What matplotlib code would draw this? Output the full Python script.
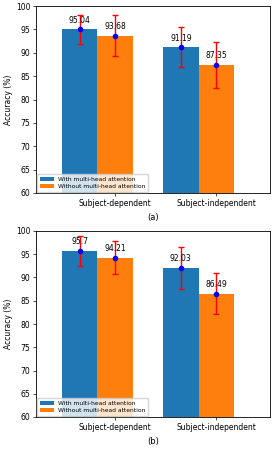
import numpy as np
import matplotlib
matplotlib.use("Agg")
import matplotlib.pyplot as plt

categories = ["Subject-dependent", "Subject-independent"]
series_names = ["With multi-head attention", "Without multi-head attention"]

# panel (a)
acc_a_with = [95.04, 91.19]
acc_a_without = [93.68, 87.35]
err_a_with = [3.1, 4.25]
err_a_without = [4.3, 4.9]

# panel (b)
acc_b_with = [95.7, 92.03]
acc_b_without = [94.21, 86.49]
err_b_with = [3.3, 4.5]
err_b_without = [3.55, 4.4]

panels = [
    ("(a)", acc_a_with, acc_a_without, err_a_with, err_a_without),
    ("(b)", acc_b_with, acc_b_without, err_b_with, err_b_without),
]


def draw(ax, caption, with_, without, e_with, e_without):
    x = np.arange(len(categories))
    w = 0.35
    ax.bar(x, with_, w, color="tab:blue", label=series_names[0])
    ax.bar(x + w, without, w, color="tab:orange", label=series_names[1])
    for xs, vals, errs in [(x, with_, e_with), (x + w, without, e_without)]:
        ax.errorbar(xs, vals, yerr=errs, fmt="o", color="blue", ecolor="red",
                    elinewidth=1, capsize=2.5, capthick=1, markersize=3)
        for xi, v in zip(xs, vals):
            ax.text(xi, v + 1.0, f"{v:g}", ha="center", va="bottom", fontsize=5.5)
    ax.set_ylim(60, 100)
    ax.set_xlim(-0.43, 1.88)
    ax.set_xticks(x + w)
    ax.set_xticklabels(categories)
    ax.set_ylabel("Accuracy (%)", fontsize=5.5, labelpad=2)
    ax.tick_params(labelsize=5.5, length=2, width=0.5, pad=2)
    ax.set_xlabel(caption, fontsize=6, labelpad=4)
    for s in ax.spines.values():
        s.set_linewidth(0.6)
    ax.legend(loc="lower left", fontsize=4.3, frameon=True, handlelength=2.3,
              borderpad=0.45, labelspacing=0.35, borderaxespad=0.2)


fig = plt.figure(figsize=(2.75, 4.51), dpi=100)
ax1 = fig.add_axes([36 / 275, 1 - 193 / 451, 234 / 275, 187 / 451])
ax2 = fig.add_axes([36 / 275, 1 - 417 / 451, 234 / 275, 186 / 451])
for ax, p in zip([ax1, ax2], panels):
    draw(ax, *p)

fig.savefig("out.png", dpi=100)
